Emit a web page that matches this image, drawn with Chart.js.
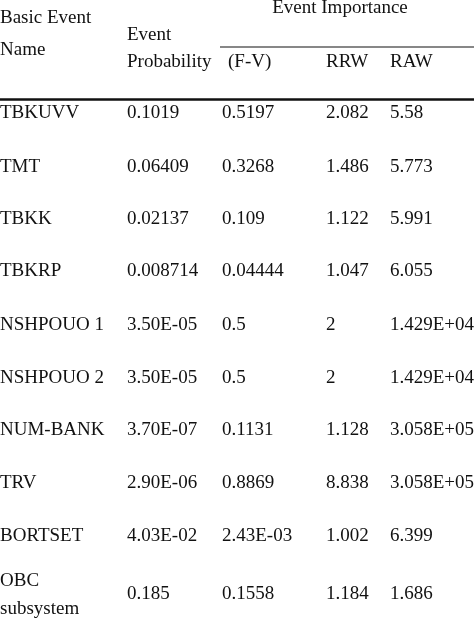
<!DOCTYPE html>
<html><head><meta charset="utf-8">
<script src="https://cdn.jsdelivr.net/npm/chart.js"></script>
<style>html,body{margin:0;padding:0;background:#fff;overflow:hidden}#w{width:474px;height:620px}</style>
</head><body><div id="w"><canvas id="c"></canvas></div>
<script>
const names = ["TBKUVV","TMT","TBKK","TBKRP","NSHPOUO 1","NSHPOUO 2","NUM-BANK","TRV","BORTSET","OBC\nsubsystem"];
const probability = ["0.1019","0.06409","0.02137","0.008714","3.50E-05","3.50E-05","3.70E-07","2.90E-06","4.03E-02","0.185"];
const fv = ["0.5197","0.3268","0.109","0.04444","0.5","0.5","0.1131","0.8869","2.43E-03","0.1558"];
const rrw = ["2.082","1.486","1.122","1.047","2","2","1.128","8.838","1.002","1.184"];
const raw = ["5.58","5.773","5.991","6.055","1.429E+04","1.429E+04","3.058E+05","3.058E+05","6.399","1.686"];
const rowY = [113,167,219,271,325,378,430,483,536,594];
const colX = [0,127,222,326,390];
const headers = [
  {t:"Event Importance",x:340,y:8,align:"center"},
  {t:"Basic Event",x:0,y:18},{t:"Name",x:0,y:50},
  {t:"Event",x:127,y:35},{t:"Probability",x:127,y:62},
  {t:"(F-V)",x:228,y:62},{t:"RRW",x:326,y:62},{t:"RAW",x:390,y:62}
];
const tablePlugin = {
  id:"table",
  afterDraw(chart){
    const {ctx, scales:{x,y}} = chart;
    ctx.save();
    ctx.fillStyle="#111"; ctx.font="19px 'Liberation Serif', 'DejaVu Serif', serif";
    ctx.textBaseline="middle";
    headers.forEach(h=>{ctx.textAlign=h.align||"left"; ctx.fillText(h.t,x.getPixelForValue(h.x),y.getPixelForValue(h.y));});
    ctx.textAlign="left";
    const cols=[names,probability,fv,rrw,raw];
    rowY.forEach((ry,i)=>{
      cols.forEach((col,j)=>{
        const lines=col[i].split("\n");
        if(lines.length>1){
          ctx.fillText(lines[0],x.getPixelForValue(colX[j]),y.getPixelForValue(ry-13));
          ctx.fillText(lines[1],x.getPixelForValue(colX[j]),y.getPixelForValue(ry+15));
        } else ctx.fillText(lines[0],x.getPixelForValue(colX[j]),y.getPixelForValue(ry));
      });
    });
    ctx.strokeStyle="#111";
    ctx.lineWidth=1.2; ctx.beginPath();
    ctx.moveTo(x.getPixelForValue(220),y.getPixelForValue(47)); ctx.lineTo(x.getPixelForValue(474),y.getPixelForValue(47)); ctx.stroke();
    ctx.lineWidth=2.5; ctx.beginPath();
    ctx.moveTo(x.getPixelForValue(0),y.getPixelForValue(99.5)); ctx.lineTo(x.getPixelForValue(474),y.getPixelForValue(99.5)); ctx.stroke();
    ctx.restore();
  }
};
new Chart(document.getElementById("c"),{
  type:"scatter",
  data:{datasets:[{data:[],pointRadius:0}]},
  options:{responsive:true,maintainAspectRatio:false,animation:false,
    layout:{padding:0},
    plugins:{legend:{display:false},tooltip:{enabled:false}},
    scales:{x:{type:"linear",min:0,max:474,display:false},y:{type:"linear",min:0,max:620,reverse:true,display:false}}},
  plugins:[tablePlugin]
});
</script></body></html>
